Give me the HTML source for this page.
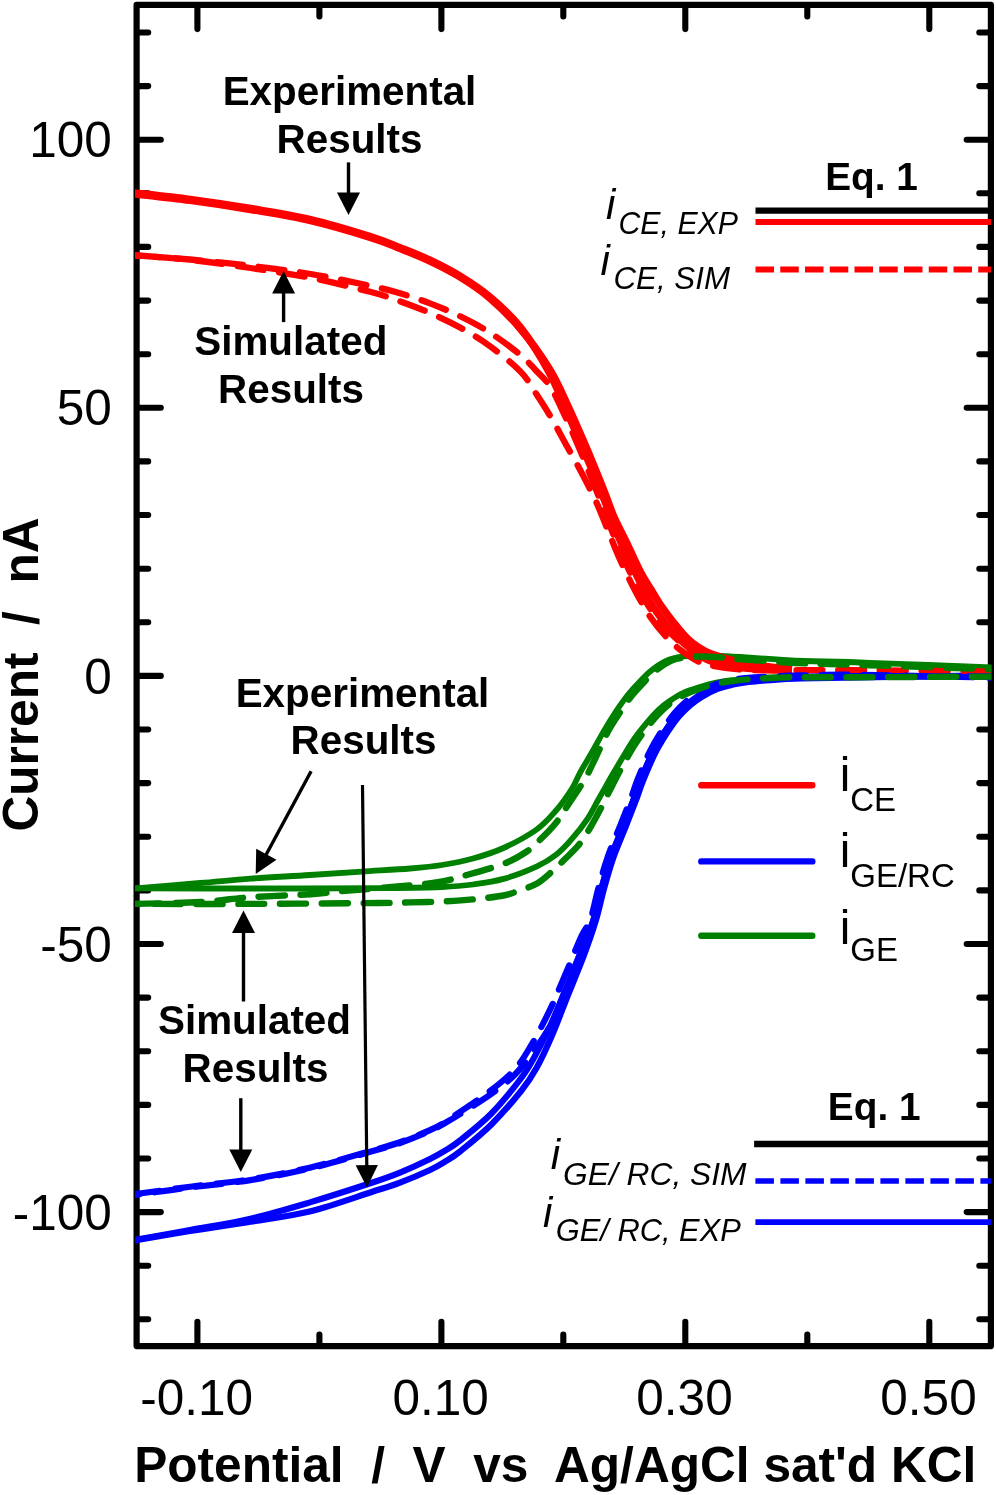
<!DOCTYPE html>
<html lang="en"><head><meta charset="utf-8"><title>Voltammogram figure</title>
<style>
html,body{margin:0;padding:0;background:#fff;}
body{width:996px;height:1495px;overflow:hidden;}
svg{display:block;}
text{font-family:"Liberation Sans",Arial,sans-serif;fill:#000;}
.tick{font-size:49.5px;}
.ttl{font-size:49.6px;font-weight:bold;}
.ann{font-size:40.4px;font-weight:bold;text-anchor:middle;}
.ax{stroke:#000;stroke-width:6.1;stroke-linecap:round;fill:none;}
.it{font-style:italic;}
</style></head><body>
<svg width="996" height="1495" viewBox="0 0 996 1495">
<rect x="0" y="0" width="996" height="1495" fill="#fff"/>
<defs><clipPath id="plot"><rect x="135.1" y="4.9" width="856.3" height="1341.2"/></clipPath></defs>
<rect x="136.6" y="4.9" width="854.3" height="1341.2" fill="none" stroke="#000" stroke-width="6.2" stroke-linejoin="round"/>
<path class="ax" d="M137.6 1319.3h10.6M989.9 1319.3h-10.6M137.6 1265.7h10.6M989.9 1265.7h-10.6M137.6 1212.1h23.2M989.9 1212.1h-23.2M137.6 1158.5h10.6M989.9 1158.5h-10.6M137.6 1104.9h10.6M989.9 1104.9h-10.6M137.6 1051.2h10.6M989.9 1051.2h-10.6M137.6 997.6h10.6M989.9 997.6h-10.6M137.6 944.0h23.2M989.9 944.0h-23.2M137.6 890.4h10.6M989.9 890.4h-10.6M137.6 836.8h10.6M989.9 836.8h-10.6M137.6 783.1h10.6M989.9 783.1h-10.6M137.6 729.5h10.6M989.9 729.5h-10.6M137.6 675.9h23.2M989.9 675.9h-23.2M137.6 622.3h10.6M989.9 622.3h-10.6M137.6 568.7h10.6M989.9 568.7h-10.6M137.6 515.0h10.6M989.9 515.0h-10.6M137.6 461.4h10.6M989.9 461.4h-10.6M137.6 407.8h23.2M989.9 407.8h-23.2M137.6 354.2h10.6M989.9 354.2h-10.6M137.6 300.6h10.6M989.9 300.6h-10.6M137.6 246.9h10.6M989.9 246.9h-10.6M137.6 193.3h10.6M989.9 193.3h-10.6M137.6 139.7h23.2M989.9 139.7h-23.2M137.6 86.1h10.6M989.9 86.1h-10.6M137.6 32.5h10.6M989.9 32.5h-10.6M197.4 1345.1v-23.2M197.4 5.9v23.2M319.4 1345.1v-10.6M319.4 5.9v10.6M441.4 1345.1v-23.2M441.4 5.9v23.2M563.3 1345.1v-10.6M563.3 5.9v10.6M685.3 1345.1v-23.2M685.3 5.9v23.2M807.3 1345.1v-10.6M807.3 5.9v10.6M929.3 1345.1v-23.2M929.3 5.9v23.2"/>
<g clip-path="url(#plot)" fill="none" stroke-linejoin="round">
<path stroke="#008000" stroke-width="5.8" d="M134.0 888.4C145.0 887.5 180.6 884.6 200.0 883.0C219.4 881.4 232.2 879.9 250.5 878.6C268.8 877.3 291.4 876.2 310.0 875.0C328.6 873.8 345.3 872.7 362.0 871.6C378.7 870.5 396.7 869.6 410.0 868.5C423.3 867.4 431.5 866.7 442.0 865.0C452.5 863.3 462.8 861.3 473.0 858.5C483.2 855.7 493.0 852.8 503.5 848.0C514.0 843.2 527.2 836.2 536.0 830.0C544.8 823.8 550.1 817.4 556.1 810.5C562.1 803.6 568.1 794.8 572.1 788.5C576.1 782.2 576.7 778.8 580.0 772.8C583.3 766.8 588.0 759.3 592.0 752.3C596.0 745.3 600.1 737.4 604.1 730.6C608.1 723.8 612.1 717.3 616.1 711.3C620.1 705.3 624.2 699.5 628.2 694.5C632.2 689.5 636.2 685.3 640.2 681.2C644.2 677.1 647.4 673.3 652.1 669.8C656.8 666.3 662.8 662.2 668.2 660.0C673.6 657.8 678.9 657.1 684.3 656.3C689.6 655.5 694.9 655.4 700.3 655.3C705.6 655.2 709.8 655.3 716.4 655.6C723.0 655.9 729.4 656.3 740.0 657.0C750.6 657.7 769.2 658.9 780.0 659.6C790.8 660.3 790.0 660.5 805.0 661.0C820.0 661.5 838.3 661.7 870.0 662.8C901.7 663.9 974.2 666.6 995.0 667.4"/>
<path stroke="#008000" stroke-width="5.8" d="M134.0 888.4C153.3 888.4 209.0 888.5 250.0 888.5C291.0 888.5 348.0 888.5 380.0 888.2C412.0 888.0 426.5 887.6 442.0 887.0C457.5 886.4 462.8 885.9 473.0 884.5C483.2 883.1 492.8 881.9 503.5 878.9C514.2 875.9 528.2 870.3 537.0 866.3C545.8 862.3 550.2 859.4 556.1 854.8C562.0 850.2 566.8 844.9 572.1 838.7C577.5 832.5 583.9 824.2 588.2 817.8C592.5 811.3 594.5 806.5 598.1 800.0C601.8 793.5 606.1 785.8 610.1 778.8C614.1 771.8 618.2 764.9 622.2 758.3C626.2 751.7 630.2 744.8 634.2 739.0C638.2 733.2 642.3 728.2 646.3 723.4C650.3 718.6 654.3 713.9 658.3 710.1C662.3 706.3 666.4 703.3 670.4 700.5C674.4 697.7 677.5 695.5 682.4 693.3C687.3 691.0 694.3 688.8 700.0 687.0C705.7 685.2 711.0 683.7 716.4 682.6C721.8 681.5 727.0 680.9 732.4 680.2C737.8 679.5 740.6 679.1 748.5 678.6C756.4 678.1 771.2 677.5 780.0 677.2C788.8 676.9 787.7 677.0 801.0 676.9C814.3 676.8 827.7 676.9 860.0 676.8C892.3 676.7 972.5 676.5 995.0 676.5"/>
<path stroke="#0000ff" stroke-width="6.2" d="M134.0 1240.0C143.3 1238.3 170.6 1233.6 190.0 1230.1C209.4 1226.5 230.4 1223.4 250.5 1218.7C270.6 1214.0 290.6 1208.0 310.7 1202.1C330.8 1196.1 356.1 1187.9 371.0 1183.0C385.9 1178.1 390.2 1176.6 400.0 1172.6C409.8 1168.6 422.5 1162.7 430.0 1159.0C437.5 1155.3 440.0 1153.8 445.0 1150.7C450.0 1147.6 452.3 1146.7 460.0 1140.5C467.7 1134.3 481.3 1123.8 491.4 1113.5C501.5 1103.2 513.1 1088.8 520.5 1079.0C527.9 1069.2 530.4 1064.2 535.5 1055.0C540.6 1045.8 545.9 1035.2 551.0 1024.0C556.1 1012.8 561.0 1000.5 566.2 988.0C571.4 975.5 577.5 960.3 582.0 949.0C586.5 937.7 590.2 930.2 593.4 920.1C596.6 910.0 598.4 899.2 601.4 888.6C604.4 878.0 607.4 867.2 611.1 856.5C614.9 845.8 620.2 833.8 623.9 824.4C627.6 815.0 630.6 807.5 633.4 800.1C636.2 792.7 637.4 788.1 640.6 780.2C643.8 772.3 648.7 760.5 652.7 752.5C656.7 744.5 660.6 738.2 664.6 732.0C668.6 725.8 672.7 720.0 676.7 715.2C680.7 710.4 684.8 706.6 688.7 703.2C692.6 699.8 695.6 697.5 700.2 694.8C704.8 692.1 711.1 688.8 716.5 686.8C721.9 684.8 727.2 683.6 732.5 682.5C737.8 681.4 740.6 680.9 748.5 680.1C756.4 679.3 771.2 678.4 780.0 677.9C788.8 677.4 787.7 677.3 801.0 677.0C814.3 676.7 827.7 676.3 860.0 676.2C892.3 676.1 972.5 676.4 995.0 676.4"/>
<path stroke="#0000ff" stroke-width="6.2" d="M134.0 1240.6C143.3 1239.0 170.6 1234.2 190.0 1231.0C209.4 1227.8 230.4 1225.0 250.5 1221.7C270.6 1218.4 290.6 1216.1 310.7 1211.2C330.8 1206.3 356.1 1197.0 371.0 1192.2C385.9 1187.4 390.2 1186.3 400.0 1182.6C409.8 1178.9 422.5 1173.5 430.0 1170.0C437.5 1166.5 440.0 1164.8 445.0 1161.7C450.0 1158.6 452.3 1157.7 460.0 1151.5C467.7 1145.3 481.1 1134.7 491.4 1124.5C501.6 1114.3 514.0 1099.9 521.5 1090.5C529.0 1081.1 531.4 1077.2 536.5 1068.0C541.6 1058.8 546.9 1047.3 552.0 1035.5C557.1 1023.7 562.0 1010.2 567.2 997.0C572.5 983.8 578.7 969.2 583.5 956.5C588.3 943.8 592.4 931.9 595.8 920.7C599.2 909.5 600.9 899.8 603.8 889.3C606.7 878.8 609.7 868.0 613.4 857.4C617.1 846.8 622.5 834.8 626.2 825.4C629.9 816.0 632.9 808.4 635.7 801.0C638.5 793.6 639.7 789.0 642.9 781.1C646.1 773.2 650.9 761.6 654.9 753.6C658.9 745.6 662.8 739.5 666.7 733.4C670.7 727.3 674.7 721.5 678.6 716.8C682.5 712.1 686.5 708.4 690.3 705.1C694.1 701.8 697.0 699.7 701.5 697.0C706.0 694.3 712.2 691.1 717.4 689.0C722.6 686.9 727.7 685.8 732.9 684.6C738.1 683.4 740.8 682.9 748.7 682.0C756.6 681.1 771.4 680.0 780.1 679.4C788.8 678.8 787.7 678.8 801.0 678.4C814.3 678.0 827.7 677.8 860.0 677.3C892.3 676.8 972.5 675.6 995.0 675.3"/>
<path stroke="#ff0000" stroke-width="7.4" d="M134.0 192.8C143.4 193.9 170.8 196.8 190.2 199.4C209.6 202.0 230.4 205.1 250.5 208.5C270.6 211.9 290.6 214.9 310.7 219.6C330.8 224.3 356.1 232.1 371.0 236.8C385.9 241.5 390.2 243.7 400.0 247.6C409.8 251.5 420.0 255.4 430.0 260.2C440.0 265.0 450.1 270.0 460.2 276.2C470.3 282.4 480.3 288.8 490.4 297.3C500.4 305.8 510.8 315.0 520.5 327.4C530.2 339.8 541.1 357.7 548.8 371.6C556.5 385.5 560.5 397.1 566.5 410.7C572.5 424.2 578.6 438.3 584.8 452.9C591.0 467.4 597.8 483.6 603.6 498.0C609.4 512.4 614.3 526.8 619.6 539.2C624.9 551.6 630.2 561.8 635.3 572.3C640.4 582.8 645.4 593.9 650.4 602.4C655.4 610.9 660.4 617.2 665.4 623.5C670.4 629.8 675.5 635.2 680.5 640.0C685.5 644.8 690.5 648.5 695.5 652.0C700.5 655.5 703.1 658.4 710.6 661.0C718.1 663.6 730.7 666.2 740.7 667.6C750.7 669.0 762.2 669.2 770.8 669.6C779.3 670.0 788.5 670.1 792.0 670.2"/>
<path stroke="#ff0000" stroke-width="7.4" d="M134.0 193.8C143.4 194.9 170.8 197.8 190.2 200.4C209.6 203.0 230.4 206.1 250.5 209.5C270.6 212.9 290.6 215.9 310.7 220.6C330.8 225.3 356.1 232.9 371.0 237.6C385.9 242.2 390.2 244.6 400.0 248.5C409.8 252.4 420.0 256.4 430.0 261.2C440.0 266.0 450.1 271.0 460.2 277.2C470.3 283.4 480.3 290.0 490.4 298.6C500.4 307.2 510.6 317.3 520.5 329.0C530.4 340.7 541.6 356.2 549.5 369.0C557.4 381.8 561.8 392.8 568.0 406.0C574.2 419.2 580.4 433.7 586.5 448.0C592.6 462.3 599.9 480.5 604.5 492.0C609.1 503.5 610.4 508.8 614.0 517.0C617.6 525.2 621.6 532.1 626.0 541.3C630.4 550.5 636.3 564.0 640.5 572.0C644.7 580.0 647.5 583.8 651.0 589.5C654.5 595.2 657.7 600.8 661.5 606.4C665.3 612.0 669.7 617.7 674.0 623.0C678.3 628.3 683.0 634.2 687.2 638.3C691.4 642.4 695.0 644.9 699.0 647.5C703.0 650.1 705.4 651.8 711.4 654.0C717.4 656.2 727.0 659.1 735.0 661.0C743.0 662.9 752.0 664.3 759.5 665.5C767.0 666.7 774.6 667.4 780.0 668.0C785.4 668.6 790.0 668.8 792.0 669.0"/>
<path stroke="#ff0000" stroke-width="6.3" stroke-dasharray="26 15.7" stroke-linecap="round" d="M134.0 255.2C143.3 255.9 170.6 257.7 190.0 259.5C209.4 261.3 230.4 263.4 250.5 265.8C270.6 268.2 290.6 270.6 310.7 274.0C330.8 277.4 356.1 282.8 371.0 286.0C385.9 289.2 390.2 290.4 400.0 293.3C409.8 296.2 420.0 299.6 430.0 303.4C440.0 307.2 449.9 311.3 460.0 316.2C470.1 321.1 480.3 326.4 490.4 332.9C500.5 339.4 513.0 348.8 520.5 355.0C528.0 361.2 530.5 364.7 535.5 370.0C540.5 375.3 545.7 379.3 550.6 387.0C555.5 394.7 560.1 405.5 565.0 416.0C569.9 426.5 575.0 438.2 580.0 450.0C585.0 461.8 590.3 475.2 595.0 487.0C599.7 498.8 603.8 510.3 608.0 521.0C612.2 531.7 615.7 540.7 620.2 551.0C624.8 561.3 630.3 573.3 635.3 583.0C640.3 592.7 645.4 601.5 650.4 609.0C655.4 616.5 660.4 622.4 665.4 628.0C670.4 633.6 675.5 638.2 680.5 642.5C685.5 646.8 690.5 650.4 695.5 653.5C700.5 656.6 703.1 658.7 710.6 661.0C718.1 663.3 730.8 666.0 740.7 667.5C750.6 669.0 765.1 669.4 770.0 669.8"/>
<path stroke="#ff0000" stroke-width="6.3" stroke-dasharray="26 15.7" stroke-dashoffset="20.8" stroke-linecap="round" d="M134.0 255.4C143.3 256.1 170.6 257.7 190.0 259.8C209.4 261.9 230.4 265.0 250.5 268.0C270.6 271.0 290.6 273.8 310.7 277.8C330.8 281.8 356.1 288.1 371.0 292.0C385.9 295.9 390.2 297.8 400.0 301.3C409.8 304.8 420.0 308.6 430.0 313.0C440.0 317.4 449.9 321.8 460.0 327.4C470.1 333.0 480.3 339.1 490.4 346.5C500.5 353.9 513.0 363.9 520.5 371.6C528.0 379.3 530.5 385.2 535.5 392.7C540.5 400.2 545.6 408.2 550.6 416.7C555.6 425.2 560.7 434.8 565.7 443.9C570.7 452.9 575.7 461.5 580.7 471.0C585.7 480.5 591.3 491.2 595.8 501.0C600.3 510.8 603.7 520.2 607.8 530.0C611.9 539.8 615.6 549.8 620.2 560.0C624.8 570.2 630.3 581.5 635.3 591.0C640.3 600.5 645.4 609.5 650.4 617.0C655.4 624.5 660.4 630.5 665.4 636.0C670.4 641.5 675.5 646.0 680.5 650.0C685.5 654.0 690.5 657.4 695.5 660.0C700.5 662.6 703.1 663.9 710.6 665.5C718.1 667.1 730.7 668.7 740.7 669.5C750.7 670.3 760.8 670.2 770.8 670.3C780.8 670.4 786.1 670.2 801.0 670.2C815.9 670.2 827.7 670.0 860.0 670.2C892.3 670.4 972.5 671.4 995.0 671.6"/>
<path stroke="#0000ff" stroke-width="6.2" stroke-dasharray="26 15.7" stroke-linecap="round" d="M134.0 1194.3C143.4 1193.0 170.8 1189.2 190.2 1186.7C209.6 1184.2 230.4 1182.5 250.5 1179.3C270.6 1176.1 290.6 1172.2 310.7 1167.4C330.8 1162.7 356.1 1155.0 371.0 1150.8C385.9 1146.6 390.2 1145.6 400.0 1142.2C409.8 1138.8 422.5 1133.5 430.0 1130.2C437.5 1126.9 440.0 1125.3 445.0 1122.2C450.0 1119.1 452.6 1117.0 460.2 1111.8C467.8 1106.6 481.3 1097.8 490.4 1090.8C499.4 1083.8 507.7 1077.2 514.5 1069.7C521.3 1062.2 525.2 1055.3 531.0 1045.6C536.8 1035.9 543.5 1023.1 549.2 1011.4C554.9 999.7 559.6 987.8 565.0 975.3C570.4 962.8 577.2 945.4 581.5 936.1C585.8 926.8 587.7 927.5 590.5 919.4C593.3 911.3 595.5 898.4 598.5 887.8C601.5 877.1 604.4 866.2 608.2 855.5C612.0 844.8 617.4 832.7 621.1 823.3C624.8 813.9 627.8 806.5 630.6 799.1C633.4 791.7 634.6 787.0 637.8 779.0C641.0 771.0 646.0 759.2 650.0 751.1C654.0 743.0 658.0 736.7 662.1 730.4C666.2 724.1 670.3 718.1 674.4 713.2C678.5 708.3 682.7 704.4 686.7 700.9C690.8 697.4 693.9 695.1 698.7 692.3C703.5 689.5 710.0 686.3 715.5 684.3C721.0 682.2 726.4 681.1 731.9 680.0C737.4 678.9 740.3 678.5 748.3 677.8C756.3 677.1 771.1 676.4 779.9 676.0C788.7 675.6 787.6 675.6 801.0 675.4C814.4 675.2 827.7 674.4 860.0 674.8C892.3 675.2 972.5 677.3 995.0 677.8"/>
<path stroke="#0000ff" stroke-width="6.2" stroke-dasharray="26 15.7" stroke-dashoffset="20.8" stroke-linecap="round" d="M134.0 1195.1C143.4 1193.8 170.8 1190.0 190.2 1187.5C209.6 1185.0 230.4 1183.3 250.5 1180.1C270.6 1176.9 290.6 1173.0 310.7 1168.2C330.8 1163.5 356.1 1155.8 371.0 1151.6C385.9 1147.4 390.2 1146.4 400.0 1143.0C409.8 1139.6 422.5 1134.3 430.0 1131.0C437.5 1127.7 440.0 1125.8 445.0 1123.0C450.0 1120.2 452.6 1118.8 460.2 1114.0C467.8 1109.2 481.3 1101.0 490.4 1094.5C499.4 1088.0 507.4 1082.1 514.5 1075.0C521.6 1067.9 526.9 1060.5 533.0 1052.0C539.1 1043.5 545.5 1034.7 551.0 1024.0C556.5 1013.3 561.0 1000.5 566.2 988.0C571.4 975.5 577.5 960.3 582.0 949.0C586.5 937.7 590.2 930.2 593.4 920.1C596.6 910.0 598.4 899.2 601.4 888.6C604.4 878.0 607.4 867.2 611.1 856.5C614.9 845.8 620.2 833.8 623.9 824.4C627.6 815.0 630.6 807.5 633.4 800.1C636.2 792.7 637.4 788.1 640.6 780.2C643.8 772.3 648.7 760.5 652.7 752.5C656.7 744.5 660.6 738.2 664.6 732.0C668.6 725.8 672.7 720.0 676.7 715.2C680.7 710.4 684.8 706.6 688.7 703.2C692.6 699.8 695.6 697.5 700.2 694.8C704.8 692.1 711.1 688.8 716.5 686.8C721.9 684.8 727.2 683.6 732.5 682.5C737.8 681.4 740.6 680.9 748.5 680.1C756.4 679.3 771.2 678.4 780.0 677.9C788.8 677.4 787.7 677.3 801.0 677.0C814.3 676.7 827.7 676.3 860.0 676.2C892.3 676.1 972.5 676.4 995.0 676.4"/>
<path stroke="#008000" stroke-width="6.4" stroke-dasharray="26 15.7" stroke-linecap="round" d="M134.0 903.9C145.0 903.6 180.6 903.1 200.0 902.0C219.4 900.9 232.1 898.5 250.5 897.2C268.9 895.9 295.6 895.2 310.7 894.2C325.8 893.2 329.2 892.2 340.8 891.2C352.4 890.2 364.1 889.5 380.0 888.0C395.9 886.5 422.1 884.5 436.0 882.5C449.9 880.5 452.2 879.0 463.5 875.9C474.8 872.8 492.8 868.0 503.5 863.9C514.2 859.8 521.4 855.2 527.6 851.0C533.9 846.8 536.2 843.5 541.0 838.8C545.8 834.1 551.6 828.3 556.1 822.7C560.6 817.1 563.2 812.2 568.0 805.0C572.8 797.8 580.4 786.8 584.8 779.3C589.2 771.8 590.6 768.0 594.5 760.0C598.4 752.0 603.8 739.5 608.0 731.5C612.2 723.5 616.0 718.3 620.0 712.3C624.0 706.3 628.0 700.5 632.0 695.5C636.0 690.5 640.0 686.4 644.0 682.2C648.0 678.0 651.5 673.9 656.0 670.3C660.5 666.7 666.0 663.0 671.0 660.8C676.0 658.6 681.0 658.0 686.0 657.3C691.0 656.6 695.9 656.5 701.0 656.5C706.1 656.5 709.9 656.5 716.4 657.0C722.9 657.5 729.4 658.4 740.0 659.2C750.6 660.0 769.2 661.3 780.0 662.0C790.8 662.7 790.0 662.9 805.0 663.4C820.0 663.9 838.3 664.2 870.0 665.2C901.7 666.2 974.2 668.7 995.0 669.4"/>
<path stroke="#008000" stroke-width="6.4" stroke-dasharray="26 15.7" stroke-dashoffset="20.8" stroke-linecap="round" d="M134.0 903.9C153.3 903.9 209.0 904.0 250.0 903.9C291.0 903.8 353.3 903.2 380.0 903.0C406.7 902.8 399.7 902.6 410.0 902.4C420.3 902.1 431.5 902.0 442.0 901.5C452.5 901.0 462.8 900.4 473.0 899.4C483.2 898.4 496.0 896.9 503.5 895.5C511.0 894.1 512.4 893.0 518.0 891.0C523.6 889.0 531.3 886.8 537.0 883.5C542.7 880.2 547.3 875.6 552.0 871.5C556.7 867.4 560.6 863.4 565.0 859.0C569.4 854.6 574.4 850.3 578.6 845.1C582.8 839.9 586.3 834.2 590.0 828.0C593.7 821.8 597.6 814.5 601.0 808.0C604.4 801.5 607.0 795.8 610.5 789.0C614.0 782.2 618.1 774.2 622.0 767.0C625.9 759.8 630.0 752.3 634.0 746.0C638.0 739.7 642.0 734.2 646.0 729.0C650.0 723.8 654.0 718.8 658.0 714.5C662.0 710.2 666.0 706.6 670.0 703.5C674.0 700.4 677.0 698.5 682.0 696.0C687.0 693.5 694.3 690.6 700.0 688.5C705.7 686.4 711.0 684.9 716.4 683.6C721.8 682.4 727.0 681.7 732.4 681.0C737.8 680.3 740.6 679.9 748.5 679.3C756.4 678.7 771.2 678.0 780.0 677.6C788.8 677.2 787.7 677.3 801.0 677.2C814.3 677.1 827.7 677.3 860.0 677.2C892.3 677.1 972.5 676.7 995.0 676.6"/>
</g>
<text x="111.8" y="157.3" class="tick" text-anchor="end">100</text>
<text x="111.8" y="425.4" class="tick" text-anchor="end">50</text>
<text x="111.8" y="693.5" class="tick" text-anchor="end">0</text>
<text x="111.8" y="961.6" class="tick" text-anchor="end">-50</text>
<text x="111.8" y="1229.7" class="tick" text-anchor="end">-100</text>
<text x="196.6" y="1415.2" class="tick" text-anchor="middle">-0.10</text>
<text x="440.6" y="1415.2" class="tick" text-anchor="middle">0.10</text>
<text x="684.5" y="1415.2" class="tick" text-anchor="middle">0.30</text>
<text x="928.5" y="1415.2" class="tick" text-anchor="middle">0.50</text>
<text x="134.2" y="1482.3" class="ttl" xml:space="preserve">Potential  /  V  vs  Ag/AgCl sat'd KCl</text>
<text class="ttl" xml:space="preserve" transform="translate(37.6 831.6) rotate(-90)">Current  /  nA</text>
<text x="349.5" y="105.4" class="ann" >Experimental</text>
<text x="349.5" y="153.3" class="ann" >Results</text>
<text x="290.8" y="354.6" class="ann" >Simulated</text>
<text x="291.0" y="403.2" class="ann" >Results</text>
<text x="362.5" y="706.8" class="ann" >Experimental</text>
<text x="363.5" y="753.8" class="ann" >Results</text>
<text x="254.5" y="1033.8" class="ann" >Simulated</text>
<text x="255.5" y="1081.5" class="ann" >Results</text>
<text x="871.6" y="189.6" class="ann" style="font-size:38.8px">Eq. 1</text>
<text x="874.2" y="1120.2" class="ann" style="font-size:38.8px">Eq. 1</text>
<line x1="348.5" y1="162.4" x2="348.5" y2="194.6" stroke="#000" stroke-width="3.4"/>
<polygon points="348.5,215.1 337.0,192.6 360.0,192.6" fill="#000"/>
<line x1="283.6" y1="322.1" x2="283.6" y2="291.4" stroke="#000" stroke-width="3.4"/>
<polygon points="283.6,270.9 295.1,293.4 272.1,293.4" fill="#000"/>
<line x1="311.1" y1="771.2" x2="265.4" y2="856.0" stroke="#000" stroke-width="3.4"/>
<polygon points="255.7,874.1 256.2,848.8 276.5,859.7" fill="#000"/>
<line x1="362.5" y1="785.0" x2="366.8" y2="1167.2" stroke="#000" stroke-width="3.2"/>
<polygon points="367.0,1187.5 355.6,1165.3 377.9,1165.1" fill="#000"/>
<line x1="243.5" y1="1001.5" x2="243.5" y2="931.1" stroke="#000" stroke-width="3.4"/>
<polygon points="243.5,910.6 255.0,933.1 232.0,933.1" fill="#000"/>
<line x1="240.8" y1="1098.2" x2="240.8" y2="1151.5" stroke="#000" stroke-width="3.4"/>
<polygon points="240.8,1172.0 229.3,1149.5 252.3,1149.5" fill="#000"/>
<line x1="701.3" y1="785.2" x2="812.3" y2="785.2" stroke="#ff0000" stroke-width="6.4" stroke-linecap="round"/>
<line x1="701.3" y1="861.4" x2="812.3" y2="861.4" stroke="#0000ff" stroke-width="6.4" stroke-linecap="round"/>
<line x1="701.3" y1="935.8" x2="812.3" y2="935.8" stroke="#008000" stroke-width="6.4" stroke-linecap="round"/>
<text x="839.7" y="791.4" style="font-size:47.6px">i<tspan style="font-size:33px" y="811.1">CE</tspan></text>
<text x="839.7" y="866.9" style="font-size:47.6px">i<tspan style="font-size:33px" y="887.4">GE/RC</tspan></text>
<text x="839.7" y="944.0" style="font-size:47.6px">i<tspan style="font-size:33px" y="961.0">GE</tspan></text>
<line x1="755.5" y1="210.6" x2="988.0" y2="210.6" stroke="#000" stroke-width="6.4"/>
<line x1="755.5" y1="222.1" x2="991.0" y2="222.1" stroke="#ff0000" stroke-width="6.0"/>
<line x1="755.5" y1="269.6" x2="991.0" y2="269.6" stroke="#ff0000" stroke-width="6.0" stroke-dasharray="18.5 6.25"/>
<line x1="754.1" y1="1144.0" x2="988.0" y2="1144.0" stroke="#000" stroke-width="6.4"/>
<line x1="755.4" y1="1181.0" x2="991.0" y2="1181.0" stroke="#0000ff" stroke-width="5.7" stroke-dasharray="18.5 6.5"/>
<line x1="755.4" y1="1222.2" x2="991.0" y2="1222.2" stroke="#0000ff" stroke-width="5.7"/>
<text class="it" x="606.0" y="219.3" style="font-size:42px">i</text>
<text class="it" x="618.5" y="234.3" style="font-size:32px" textLength="119.5" lengthAdjust="spacingAndGlyphs">CE, EXP</text>
<text class="it" x="600.5" y="274.5" style="font-size:42px">i</text>
<text class="it" x="613.5" y="288.6" style="font-size:32px" textLength="116.5" lengthAdjust="spacingAndGlyphs">CE, SIM</text>
<text class="it" x="550.7" y="1169.4" style="font-size:42px">i</text>
<text class="it" x="563.0" y="1184.6" style="font-size:32px" textLength="183.5" lengthAdjust="spacingAndGlyphs">GE/ RC, SIM</text>
<text class="it" x="543.0" y="1226.7" style="font-size:42px">i</text>
<text class="it" x="555.8" y="1240.5" style="font-size:32px" textLength="185.0" lengthAdjust="spacingAndGlyphs">GE/ RC, EXP</text>
</svg>
</body></html>
